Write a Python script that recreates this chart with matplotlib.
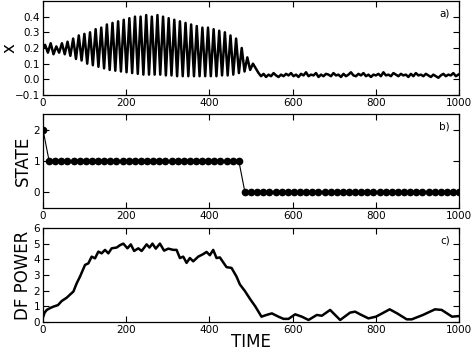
import numpy as np
import matplotlib
matplotlib.use('Agg')
import matplotlib.pyplot as plt

# Panel a: oscillation peaks / troughs, then a noisy tail
peak_t = [5, 18.5, 32, 45.5, 59, 72.5, 86, 99.5, 113, 126.5, 140, 153.5, 167, 180.5,
          194, 207.5, 221, 234.5, 248, 261.5, 275, 288.5, 302, 315.5, 329, 342.5,
          356, 369.5, 383, 396.5, 410, 423.5, 437, 450.5, 464, 477.5, 491, 504.5]
trough_t = [11.75, 25.25, 38.75, 52.25, 65.75, 79.25, 92.75, 106.25, 119.75, 133.25,
            146.75, 160.25, 173.75, 187.25, 200.75, 214.25, 227.75, 241.25, 254.75,
            268.25, 281.75, 295.25, 308.75, 322.25, 335.75, 349.25, 362.75, 376.25,
            389.75, 403.25, 416.75, 430.25, 443.75, 457.25, 470.75, 484.25, 497.75, 511.25]
peak_x = [0.22, 0.23, 0.21, 0.23, 0.24, 0.26, 0.28, 0.29, 0.30, 0.32, 0.33, 0.35, 0.36,
          0.37, 0.38, 0.39, 0.40, 0.40, 0.41, 0.40, 0.41, 0.40, 0.39, 0.38, 0.37, 0.36,
          0.35, 0.34, 0.33, 0.33, 0.32, 0.31, 0.30, 0.28, 0.26, 0.20, 0.14, 0.10]
trough_x = [0.17, 0.16, 0.17, 0.16, 0.15, 0.13, 0.12, 0.10, 0.09, 0.08, 0.07, 0.06, 0.055,
            0.05, 0.045, 0.04, 0.035, 0.03, 0.03, 0.03, 0.03, 0.025, 0.025, 0.02, 0.02,
            0.02, 0.02, 0.02, 0.02, 0.02, 0.02, 0.025, 0.025, 0.03, 0.04, 0.05, 0.06, 0.07]
tail_x = [0.04, 0.02, 0.035, 0.015, 0.03, 0.02, 0.04, 0.025, 0.015, 0.03,
          0.02, 0.035, 0.025, 0.04, 0.02, 0.03, 0.015, 0.035, 0.025, 0.045,
          0.02, 0.03, 0.025, 0.04, 0.015, 0.03, 0.02, 0.035, 0.03, 0.02,
          0.04, 0.025, 0.03, 0.015, 0.035, 0.02, 0.03, 0.045, 0.025, 0.02,
          0.035, 0.025, 0.04, 0.02, 0.03, 0.015, 0.03, 0.025, 0.035, 0.02,
          0.045, 0.025, 0.03, 0.02, 0.04, 0.03, 0.02, 0.035, 0.025, 0.03,
          0.015, 0.035, 0.02, 0.04, 0.025, 0.03, 0.02, 0.035, 0.025, 0.015,
          0.03, 0.02, 0.01, 0.025, 0.035, 0.02, 0.03, 0.025, 0.04, 0.02, 0.03]
tail_t = np.arange(518, 1001, 6)

# Panel b: state sequence
state = [2] + [1] * 32 + [0] * 36
state_t = np.linspace(0, 1000, len(state))

# Panel c: DF power
power_t = [0, 4, 9, 18, 25, 36, 45, 57, 65, 73, 81, 89, 101, 109, 117, 125, 133, 141, 149,
           157, 165, 177, 185, 193, 203, 211, 219, 229, 237, 249, 256, 263, 271, 281, 291,
           301, 313, 321, 329, 337, 345, 353, 361, 373, 385, 393, 401, 409, 417, 425, 441,
           453, 465, 473, 485, 498, 510, 525, 537, 550, 565, 578, 590, 606, 622, 638, 658,
           670, 690, 714, 738, 750, 762, 782, 800, 815, 833, 851, 874, 886, 913, 942, 958,
           983, 1000]
power = [0.3, 0.6, 0.77, 0.9, 0.98, 1.08, 1.34, 1.55, 1.75, 1.94, 2.47, 2.9, 3.64, 3.74,
         4.17, 4.06, 4.49, 4.38, 4.6, 4.38, 4.7, 4.75, 4.9, 5.0, 4.7, 4.95, 4.53, 4.7, 4.53,
         4.95, 4.75, 5.0, 4.68, 5.0, 4.55, 4.68, 4.6, 4.6, 4.08, 4.17, 3.77, 4.08, 3.87, 4.17,
         4.33, 4.47, 4.26, 4.6, 4.08, 4.12, 3.5, 3.45, 2.9, 2.4, 1.98, 1.45, 1.0, 0.34, 0.45,
         0.55, 0.35, 0.2, 0.2, 0.49, 0.34, 0.13, 0.45, 0.4, 0.77, 0.13, 0.6, 0.66, 0.49, 0.23,
         0.34, 0.55, 0.81, 0.55, 0.17, 0.17, 0.45, 0.81, 0.77, 0.34, 0.38]

# interleave peaks and troughs, then append tail
osc_t = np.ravel(np.column_stack([peak_t, trough_t]))
osc_x = np.ravel(np.column_stack([peak_x, trough_x]))
x_t = np.concatenate([[0], osc_t, tail_t])
x_v = np.concatenate([[0.2], osc_x, tail_x])

fig = plt.figure(figsize=(4.74, 3.51), dpi=100)
left, width, height = 0.0907, 0.878, 0.268
ax_a = fig.add_axes([left, 0.7293, width, height])
ax_b = fig.add_axes([left, 0.4074, width, height])
ax_c = fig.add_axes([left, 0.0826, width, height])

ax_a.plot(x_t, x_v, color='black', lw=1.8)
ax_b.plot(state_t, state, color='black', lw=0.8, marker='o', markersize=4.5)
ax_c.plot(power_t, power, color='black', lw=1.8)

ax_a.set_ylim(-0.1, 0.5)
ax_a.set_yticks([-0.1, 0.0, 0.1, 0.2, 0.3, 0.4])
ax_b.set_ylim(-0.5, 2.5)
ax_b.set_yticks([0, 1, 2])
ax_c.set_ylim(0, 6)
ax_c.set_yticks(range(7))

ylabels = ['x', 'STATE', 'DF POWER']
tags = ['a)', 'b)', 'c)']
label_x = [-0.06, -0.026, -0.026]
for ax, lab, tag, lx in zip([ax_a, ax_b, ax_c], ylabels, tags, label_x):
    ax.set_xlim(0, 1000)
    ax.set_xticks([0, 200, 400, 600, 800, 1000])
    ax.tick_params(direction='in', top=True, right=True, length=4, width=0.8,
                   labelsize=7.5, pad=2)
    for s in ax.spines.values():
        s.set_linewidth(0.9)
    ax.set_ylabel(lab, fontsize=12)
    ax.yaxis.set_label_coords(lx, 0.5)
    ax.text(0.978, 0.87, tag, transform=ax.transAxes, ha='right', va='center',
            fontsize=7.5)

ax_c.set_xlabel('TIME', fontsize=12)
ax_c.xaxis.set_label_coords(0.5, -0.115)

plt.savefig('out.png', dpi=100)
